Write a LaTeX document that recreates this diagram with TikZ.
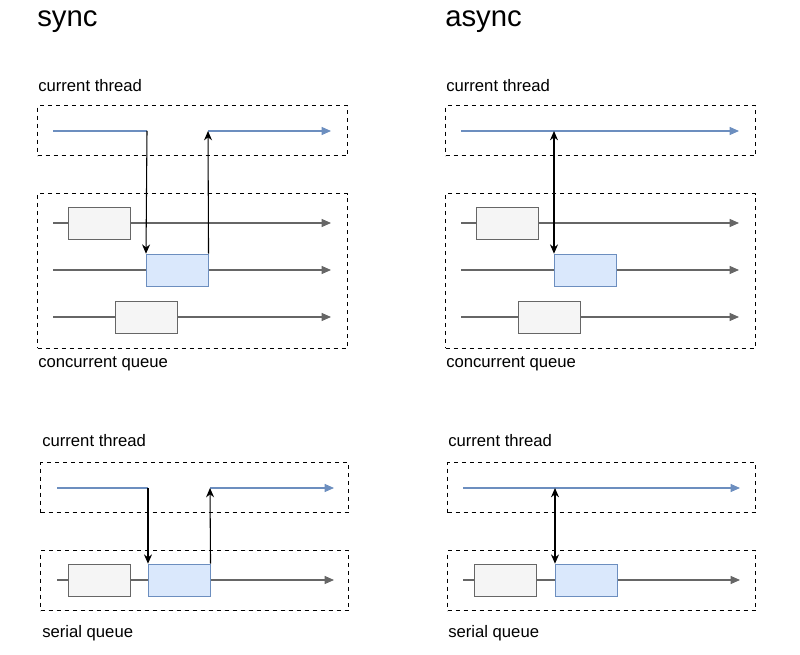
\documentclass[tikz,border=0pt]{standalone}
\usepackage{fontspec}
\setmainfont{Liberation Sans}
\usetikzlibrary{positioning, arrows.meta}

\definecolor{bluefill}{HTML}{DAE8FC}
\definecolor{blueline}{HTML}{6C8EBF}
\definecolor{grayfill}{HTML}{F5F5F5}
\definecolor{grayline}{HTML}{666666}

\tikzset{
	frame/.style={draw, dashed, thick, minimum height=#1, anchor=north west, minimum width=232.5pt, inner sep=0},
	task/.style={draw=grayline, fill=grayfill, minimum width=46.5pt, minimum height=24pt, anchor=west, inner sep=0},
	job/.style={task, draw=blueline, fill=bluefill},
	lane/.style={grayline, thick, -{Triangle[length=7pt,width=6pt]}},
	flow/.style={blueline, thick, -{Triangle[length=7pt,width=6pt]}},
	call/.style={thick, -{Stealth[length=7pt,width=6pt]}},
	label/.style={anchor=west, font=\fontsize{12.5}{14}\selectfont, inner sep=0},
	title/.style={anchor=west, font=\fontsize{22}{26}\selectfont, inner sep=0}
}

\begin{document}
\begin{tikzpicture}[x=0.75pt, y=-0.75pt]
	\useasboundingbox (0,0) rectangle (800,655);

	% sync, concurrent
	\node[title] (t1) at (37,22) {sync};
	\node[label] (ct1) at (38,86) {current thread};
	\node[frame=37.5pt] (th1) at (37,105) {};
	\node[frame=116pt] (q1) at (37,193) {};
	\node[label] (cq1) at (38,364) {concurrent queue};
	\coordinate (a1) at (53,131);
	\coordinate (b1) at (147,131);
	\coordinate (c1) at (208,131);
	\coordinate (d1) at (331,131);
	\draw[flow, -] (a1) -- (b1);
	\draw[flow] (c1) -- (d1);
	\foreach \y [count=\i] in {223,270,317} {
		\coordinate (s1\i) at (53,\y);
		\coordinate (e1\i) at (331,\y);
		\draw[lane] (s1\i) -- (e1\i);
	}
	\node[task] (g11) at (68,223) {};
	\node[job] (j1) at (146,270) {};
	\node[task] (g13) at (115,317) {};
	\draw[call] (b1) -- (j1.north west);
	\draw[call] (j1.north east) -- (c1);

	% async, concurrent
	\node[title] (t2) at (445,22) {async};
	\node[label] (ct2) at (446,86) {current thread};
	\node[frame=37.5pt] (th2) at (445,105) {};
	\node[frame=116pt] (q2) at (445,193) {};
	\node[label] (cq2) at (446,364) {concurrent queue};
	\coordinate (a2) at (461,131);
	\coordinate (b2) at (554,131);
	\coordinate (d2) at (739,131);
	\draw[flow] (a2) -- (d2);
	\foreach \y [count=\i] in {223,270,317} {
		\coordinate (s2\i) at (461,\y);
		\coordinate (e2\i) at (739,\y);
		\draw[lane] (s2\i) -- (e2\i);
	}
	\node[task] (g21) at (476,223) {};
	\node[job] (j2) at (554,270) {};
	\node[task] (g23) at (518,317) {};
	\draw[call, {Stealth[length=7pt,width=6pt]}-{Stealth[length=7pt,width=6pt]}] (b2) -- (j2.north west);

	% sync, serial
	\node[label] (ct3) at (42,441) {current thread};
	\node[frame=37.5pt, minimum width=231pt] (th3) at (40,462) {};
	\node[frame=45pt, minimum width=231pt] (q3) at (40,550) {};
	\node[label] (sq3) at (42,633) {serial queue};
	\coordinate (a3) at (57,488);
	\coordinate (b3) at (148,488);
	\coordinate (c3) at (210,488);
	\coordinate (d3) at (334,488);
	\draw[flow, -] (a3) -- (b3);
	\draw[flow] (c3) -- (d3);
	\coordinate (s3) at (57,580);
	\coordinate (e3) at (334,580);
	\draw[lane] (s3) -- (e3);
	\node[task] (g3) at (68,580) {};
	\node[job] (j3) at (148,580) {};
	\draw[call] (b3) -- (j3.north west);
	\draw[call] (j3.north east) -- (c3);

	% async, serial
	\node[label] (ct4) at (448,441) {current thread};
	\node[frame=37.5pt, minimum width=231pt] (th4) at (447,462) {};
	\node[frame=45pt, minimum width=231pt] (q4) at (447,550) {};
	\node[label] (sq4) at (448,633) {serial queue};
	\coordinate (a4) at (463,488);
	\coordinate (b4) at (555,488);
	\coordinate (d4) at (740,488);
	\draw[flow] (a4) -- (d4);
	\coordinate (s4) at (463,580);
	\coordinate (e4) at (740,580);
	\draw[lane] (s4) -- (e4);
	\node[task] (g4) at (474,580) {};
	\node[job] (j4) at (555,580) {};
	\draw[call, {Stealth[length=7pt,width=6pt]}-{Stealth[length=7pt,width=6pt]}] (b4) -- (j4.north west);
\end{tikzpicture}
\end{document}
